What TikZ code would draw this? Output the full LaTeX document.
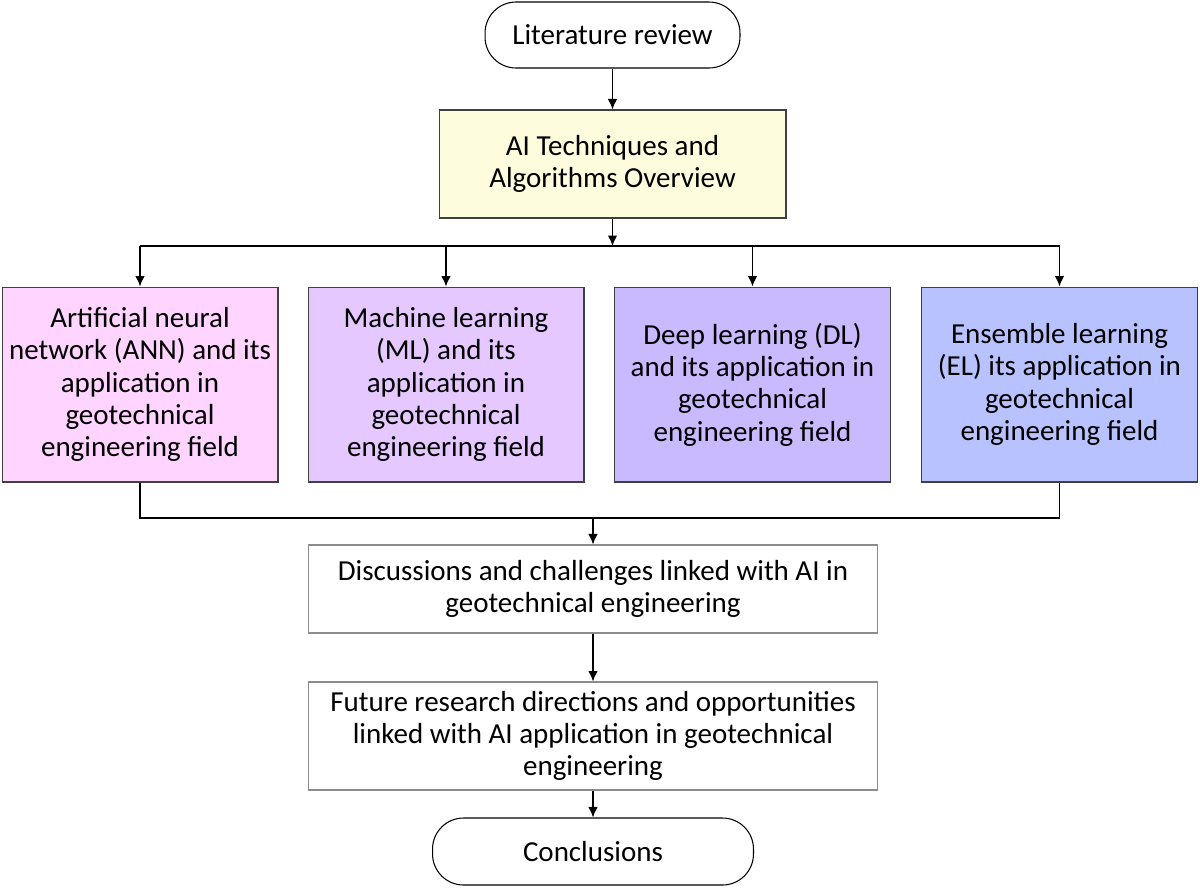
\documentclass[tikz,border=0pt]{standalone}
\usepackage{fontspec}
\setmainfont{Carlito}
\usepackage{tikz}
\usetikzlibrary{arrows.meta,calc,positioning}
\definecolor{annpink}{HTML}{FFD5FF}
\definecolor{mllilac}{HTML}{E5C8FF}
\definecolor{dlviolet}{HTML}{C9B9FF}
\definecolor{elblue}{HTML}{B8C2FF}
\definecolor{aiyellow}{HTML}{FDFCDD}
\definecolor{boxedge}{HTML}{404040}
\definecolor{greyedge}{HTML}{8C8C8C}

\begin{document}
\begin{tikzpicture}[x=0.02cm,y=-0.02cm,
    every node/.style={font=\fontsize{16.5}{18.4}\selectfont, align=center, inner sep=0pt},
    terminal/.style={draw=black, line width=0.6pt, rounded corners=0.62cm, fill=white},
    topicbox/.style={draw=boxedge, line width=0.6pt, minimum width=5.52cm, minimum height=3.9cm},
    plainbox/.style={draw=greyedge, line width=0.6pt, fill=white, minimum width=11.38cm},
    link/.style={-{Latex[length=2.1mm,width=1.9mm]}, line width=0.75pt},
    bus/.style={line width=0.75pt}]
        \useasboundingbox (0,0) rectangle (1200,887);
        %Top
        \node[terminal, minimum width=5.1cm, minimum height=1.32cm] (lit) at (612.5,35) {Literature review};
        \node[draw=boxedge, line width=0.6pt, fill=aiyellow, minimum width=6.94cm, minimum height=2.16cm] (ai) at (612.5,164) {AI Techniques and\\Algorithms Overview};
        %Topics
        \node[topicbox, fill=annpink] (ann) at (140,384.5) {Artificial neural\\network (ANN) and its\\application in\\geotechnical\\engineering field};
        \node[topicbox, fill=mllilac] (ml) at (446,384.5) {Machine learning\\(ML) and its\\application in\\geotechnical\\engineering field};
        \node[topicbox, fill=dlviolet] (dl) at (752.5,384.5) {Deep learning (DL)\\and its application in\\geotechnical\\engineering field};
        \node[topicbox, fill=elblue] (el) at (1059.5,384.5) {Ensemble learning\\(EL) its application in\\geotechnical\\engineering field};
        %Bottom
        \node[plainbox, minimum height=1.76cm] (disc) at (593,589) {Discussions and challenges linked with AI in\\geotechnical engineering};
        \node[plainbox, minimum height=2.16cm] (future) at (593,736) {Future research directions and opportunities\\linked with AI application in geotechnical\\engineering};
        \node[terminal, minimum width=6.42cm, minimum height=1.34cm] (concl) at (593,851.5) {Conclusions};
        %Buses
        \coordinate (upbus) at (612.5,246);
        \coordinate (lowbus) at (593,518);
        %Draw connectors
        \draw[link] (lit) -- (ai);
        \draw[link] (ai) -- (upbus);
        \draw[bus] (ann.north |- upbus) -- (el.north |- upbus);
        \foreach \t in {ann,ml,dl,el}
          \draw[link] (\t.north |- upbus) -- (\t.north);
        \draw[bus] (ann.south) -- (ann.south |- lowbus) -- (el.south |- lowbus) -- (el.south);
        \draw[link] (lowbus) -- (disc);
        \draw[link] (disc) -- (future);
        \draw[link] (future) -- (concl);
      \end{tikzpicture}
\end{document}
